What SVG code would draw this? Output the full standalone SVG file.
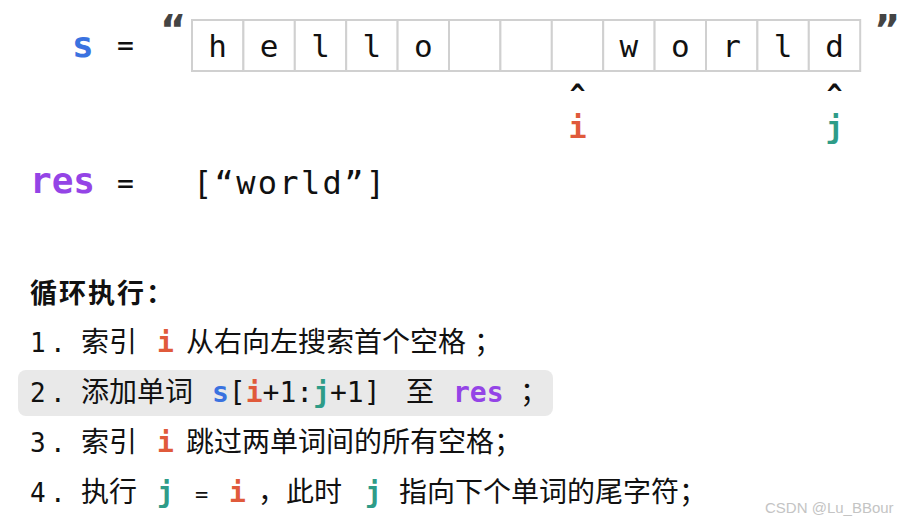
<svg xmlns="http://www.w3.org/2000/svg" width="908" height="522" viewBox="0 0 908 522">
<style>
.mono{font-family:"DejaVu Sans Mono","Liberation Mono",monospace;}
.cjk{font-family:"Noto Sans CJK SC","Noto Sans",sans-serif;fill:#111;}
.cell{fill:#fff;stroke:#d0d0d0;stroke-width:2;}
.ch{font-family:"DejaVu Sans Mono","Liberation Mono",monospace;font-size:31px;fill:#111;text-anchor:middle;}
.b{font-weight:bold;}
.blue{fill:#3a72e0;}
.red{fill:#e05a3b;}
.teal{fill:#2e9c88;}
.purple{fill:#9444e6;}
.q{font-family:"DejaVu Sans",sans-serif;font-weight:bold;font-size:40px;fill:#444;}
.caret{font-family:"DejaVu Sans Mono",monospace;font-weight:bold;font-size:26px;fill:#111;text-anchor:middle;}
</style>
<rect width="908" height="522" fill="#fff"/>
<g id="s-label">
<text x="72" y="57" class="mono b blue" font-size="36">s</text>
<text x="117" y="55" class="mono" font-size="28" fill="#111">=</text>
<text x="160" y="44" class="q">“</text>
<text x="874" y="44" class="q">”</text>
</g>
<g id="string-cells">
<rect class="cell" x="192" y="20" width="51.4" height="51"/>
<rect class="cell" x="243.4" y="20" width="51.4" height="51"/>
<rect class="cell" x="294.8" y="20" width="51.4" height="51"/>
<rect class="cell" x="346.2" y="20" width="51.4" height="51"/>
<rect class="cell" x="397.6" y="20" width="51.4" height="51"/>
<rect class="cell" x="449" y="20" width="51.4" height="51"/>
<rect class="cell" x="500.4" y="20" width="51.4" height="51"/>
<rect class="cell" x="551.8" y="20" width="51.4" height="51"/>
<rect class="cell" x="603.2" y="20" width="51.4" height="51"/>
<rect class="cell" x="654.6" y="20" width="51.4" height="51"/>
<rect class="cell" x="706" y="20" width="51.4" height="51"/>
<rect class="cell" x="757.4" y="20" width="51.4" height="51"/>
<rect class="cell" x="808.8" y="20" width="51.4" height="51"/>
<text class="ch" x="217.7" y="57">h</text>
<text class="ch" x="269.1" y="57">e</text>
<text class="ch" x="320.5" y="57">l</text>
<text class="ch" x="371.9" y="57">l</text>
<text class="ch" x="423.3" y="57">o</text>
<text class="ch" x="628.9" y="57">w</text>
<text class="ch" x="680.3" y="57">o</text>
<text class="ch" x="731.7" y="57">r</text>
<text class="ch" x="783.1" y="57">l</text>
<text class="ch" x="834.5" y="57">d</text>
</g>
<g id="pointer-i">
<text x="577.5" y="103" class="caret">^</text>
<text x="577.5" y="138" class="mono b red" font-size="30" text-anchor="middle">i</text>
</g>
<g id="pointer-j">
<text x="834.5" y="103" class="caret">^</text>
<text x="834.5" y="138" class="mono b teal" font-size="30" text-anchor="middle">j</text>
</g>
<g id="res-line">
<text x="30" y="193" class="mono b purple" font-size="36">res</text>
<text x="117" y="193" class="mono" font-size="28" fill="#111">=</text>
<text x="193" y="194" class="mono" font-size="32" fill="#111" textLength="192">[“world”]</text>
</g>
<g id="connectors"/>
<g id="steps">
<text x="30" y="303" class="cjk b" font-size="27" letter-spacing="2">循环执行：</text>
<text y="352" font-size="28"><tspan x="30" class="mono" fill="#111" font-size="26">1</tspan><tspan x="50" class="mono" fill="#111" font-size="26">.</tspan><tspan x="81" class="cjk">索引</tspan><tspan x="157" class="mono b red" font-size="28">i</tspan><tspan x="186" class="cjk">从右向左搜索首个空格</tspan><tspan x="474" class="cjk">；</tspan></text>
<rect x="18" y="370" width="535" height="46" rx="8" fill="#e9e9e9"/>
<text y="402" font-size="28"><tspan x="30" class="mono" fill="#111" font-size="26">2</tspan><tspan x="50" class="mono" fill="#111" font-size="26">.</tspan><tspan x="81" class="cjk">添加单词</tspan><tspan x="212" class="mono b blue" font-size="28">s</tspan><tspan class="mono" fill="#111" font-size="28">[</tspan><tspan class="mono b red" font-size="28">i</tspan><tspan class="mono" fill="#111" font-size="28">+1:</tspan><tspan class="mono b teal" font-size="28">j</tspan><tspan class="mono" fill="#111" font-size="28">+1]</tspan><tspan x="406" class="cjk">至</tspan><tspan x="453" class="mono b purple" font-size="28">res</tspan><tspan x="520" class="cjk">；</tspan></text>
<text y="452" font-size="28"><tspan x="30" class="mono" fill="#111" font-size="26">3</tspan><tspan x="50" class="mono" fill="#111" font-size="26">.</tspan><tspan x="81" class="cjk">索引</tspan><tspan x="157" class="mono b red" font-size="28">i</tspan><tspan x="186" class="cjk">跳过两单词间的所有空格；</tspan></text>
<text y="502" font-size="28"><tspan x="30" class="mono" fill="#111" font-size="26">4</tspan><tspan x="50" class="mono" fill="#111" font-size="26">.</tspan><tspan x="81" class="cjk">执行</tspan><tspan x="157" class="mono b teal" font-size="28">j</tspan><tspan x="195" class="mono" fill="#111" font-size="22">=</tspan><tspan x="229" class="mono b red" font-size="28">i</tspan><tspan x="258" class="cjk">，此时</tspan><tspan x="365" class="mono b teal" font-size="28">j</tspan><tspan x="399" class="cjk">指向下个单词的尾字符；</tspan></text>
</g>
<g id="watermark">
<text x="765" y="513" font-family="'Liberation Sans',Arial,sans-serif" font-size="15" fill="#c4c4c4">CSDN @Lu_BBour</text>
</g>
</svg>
